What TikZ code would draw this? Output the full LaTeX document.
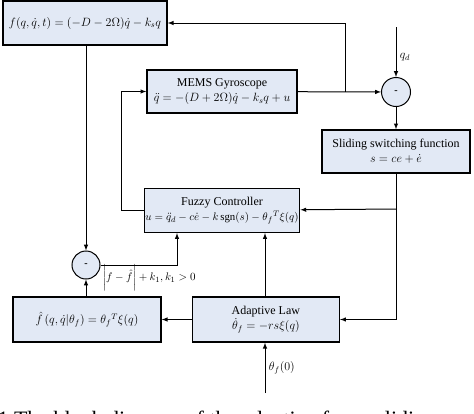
\documentclass[tikz,border=0pt]{standalone}
\usepackage{amsmath, amssymb}
\usepackage{fontspec}
\setmainfont{Liberation Serif}
\usetikzlibrary{positioning}
\definecolor{blockfill}{RGB}{226,233,245}
\tikzset{block/.style={rectangle,draw,line width=1.4pt,fill=blockfill,align=center,inner sep=1pt},
	 sumnode/.style={circle,draw,line width=1pt,fill=blockfill,inner sep=0pt,minimum size=29pt,font=\bfseries},
	 line/.style={line width=1pt},
	 arr/.style={line width=1pt,-latex},
	 node distance = 30pt
	 }

\begin{document}
\begin{tikzpicture}[x=1pt,y=-1pt,font=\fontsize{12}{15}\selectfont] % adaptive fuzzy sliding mode control loop
	\useasboundingbox (0,0) rectangle (474,413);
	\node[block,minimum width=164pt,minimum height=44pt] (fq) at (85,23) {$f(q,\dot q,t)=(-D-2\Omega)\dot q-k_s q$};
	\node[block,minimum width=150pt,minimum height=43pt] (mems) at (222,91.5) {MEMS Gyroscope\\ $\ddot q=-(D+2\Omega)\dot q-k_s q+u$};
	\node[block,minimum width=150pt,minimum height=44pt] (fuzzy) [below=74pt of mems] {Fuzzy Controller\\ \fontsize{10.8}{15}\selectfont $u=\ddot q_d-c\dot e-k\,\mathrm{sgn}(s)-\theta_f{}^T\xi(q)$};
	\node[block,minimum width=148pt,minimum height=43pt] (slide) at (396,151.5) {Sliding switching function\\ $s=ce+\dot e$};
	\node[block,minimum width=148pt,minimum height=45pt] (fhat) at (87,319.5) {$\hat f\left(q,\dot q\middle|\theta_f\right)=\theta_f{}^T\xi(q)$};
	\node[block,minimum width=147pt,minimum height=45pt] (adapt) [right=of fhat] {Adaptive Law\\ $\dot\theta_f=-rs\xi(q)$};
	\node[sumnode] (sum1) at (396,92) {-};
	\node[sumnode,minimum size=28pt] (sum2) at (86,265) {-};
	\coordinate (qd) at (396,27);
	\coordinate (th0) at (265,393);
	\coordinate (br1) at (345,91.5);
	\coordinate (br2) at (396,209);
	\draw[arr] (mems) to (sum1);
	\draw[arr] (br1) |- (fq);
	\draw[arr] (qd) to node[right,pos=.6] {$q_d$} (sum1);
	\draw[arr] (sum1) to (slide);
	\draw[line] (slide) to (br2); \draw[arr] (br2) to (fuzzy);
	\draw[arr] (br2) |- (adapt);
	\draw[arr] (fuzzy.west) -- ++(-22,0) |- (mems.west);
	\draw[arr] (fq.south -| sum2) to (sum2);
	\draw[arr] (fhat.north -| sum2) to (sum2);
	\draw[arr] (sum2) -| (fuzzy.south -| 177,0);
	\draw[arr] (adapt.north -| 265,0) to (fuzzy.south -| 265,0);
	\draw[arr] (adapt) to (fhat);
	\draw[arr] (th0) to node[right] {$\theta_f(0)$} (adapt.south -| th0);
	\node[anchor=west,font=\fontsize{11}{14}\selectfont] (err) at (99,278) {$\biggl|f-\hat f\biggr|+k_1,k_1>0$};
	\node[anchor=base west,font=\fontsize{22}{26}\selectfont] (cap) at (-6,426) {1 The block diagram of the adaptive fuzzy sliding mode control};
\end{tikzpicture}
\end{document}
